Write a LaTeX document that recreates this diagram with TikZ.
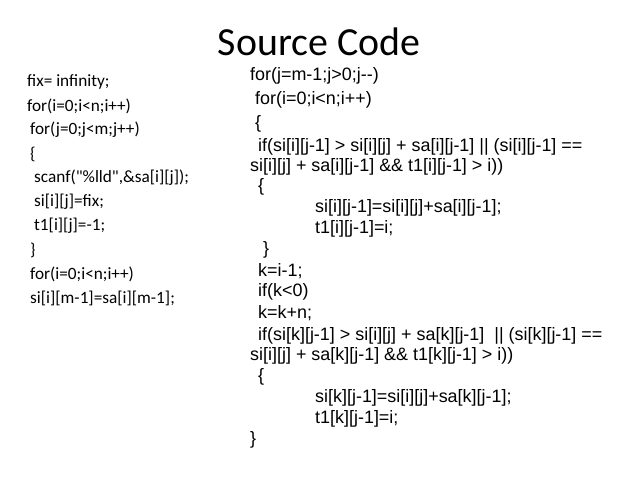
\documentclass[tikz,border=0pt]{standalone}
\usepackage{fontspec}
\newfontfamily\calfont{Carlito}
\newfontfamily\arialfont{Liberation Sans}
\begin{document}
\begin{tikzpicture}[x=1bp, y=-1bp,
  codeleft/.style={anchor=west, inner sep=0pt, font=\calfont\fontsize{17.3}{19}\selectfont},
  coderight/.style={anchor=west, inner sep=0pt, font=\arialfont\fontsize{18}{20}\selectfont}]
\useasboundingbox (0,0) rectangle (638,479);
%title
\node [font=\calfont\fontsize{40}{44}\selectfont] (title) at (319,42) {Source Code};
%left column
\node [codeleft] (l1) at (27,82) {fix= infinity;};
\node [codeleft] (l2) at (27,106) {for(i=0;i<n;i++)};
\node [codeleft] (l3) at (30,130) {for(j=0;j<m;j++)};
\node [codeleft] (l4) at (30,154) {\{};
\node [codeleft] (l5) at (34,178) {scanf("\%lld",\&sa[i][j]);};
\node [codeleft] (l6) at (34,202) {si[i][j]=fix;};
\node [codeleft] (l7) at (34,226) {t1[i][j]=-1;};
\node [codeleft] (l8) at (30,250) {\}};
\node [codeleft] (l9) at (30,274) {for(i=0;i<n;i++)};
\node [codeleft] (l10) at (30,298) {si[i][m-1]=sa[i][m-1];};
%right column
\node [coderight] (r1) at (250,76) {for(j=m-1;j>0;j-{}-)};
\node [coderight] (r2) at (255,100) {for(i=0;i<n;i++)};
\node [coderight] (r3) at (255,124) {\{};
\node [coderight] (r4) at (258,147) {if(si[i][j-1] > si[i][j] + sa[i][j-1] || (si[i][j-1] ==};
\node [coderight] (r5) at (250,167) {si[i][j] + sa[i][j-1] \&\& t1[i][j-1] > i))};
\node [coderight] (r6) at (258,187) {\{};
\node [coderight] (r7) at (315,208) {si[i][j-1]=si[i][j]+sa[i][j-1];};
\node [coderight] (r8) at (315,229) {t1[i][j-1]=i;};
\node [coderight] (r9) at (263,250) {\}};
\node [coderight] (r10) at (258,271) {k=i-1;};
\node [coderight] (r11) at (258,292) {if(k<0)};
\node [coderight] (r12) at (258,313) {k=k+n;};
\node [coderight] (r13) at (258,336) {if(si[k][j-1] > si[i][j] + sa[k][j-1] \ || (si[k][j-1] ==};
\node [coderight] (r14) at (250,356) {si[i][j] + sa[k][j-1] \&\& t1[k][j-1] > i))};
\node [coderight] (r15) at (258,377) {\{};
\node [coderight] (r16) at (315,398) {si[k][j-1]=si[i][j]+sa[k][j-1];};
\node [coderight] (r17) at (315,419) {t1[k][j-1]=i;};
\node [coderight] (r18) at (250,440) {\}};
\end{tikzpicture}
\end{document}
